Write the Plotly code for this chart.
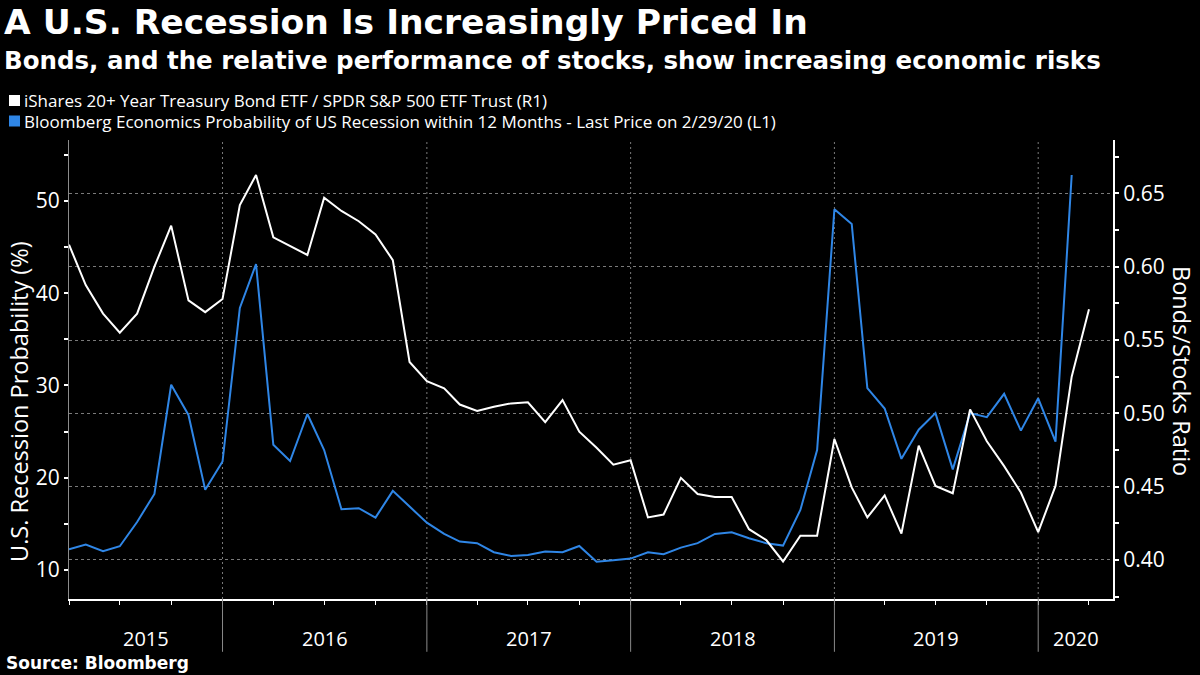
import plotly.graph_objects as go
import pandas as pd

# ---------------- data ----------------
ratio_dates = pd.date_range("2015-04-01", "2020-04-01", freq="MS")
ratio_values = [
    0.615, 0.5875, 0.568, 0.555, 0.568, 0.600, 0.628, 0.577, 0.569, 0.578,
    0.642, 0.6625, 0.620, 0.614, 0.608, 0.647, 0.638, 0.631, 0.622, 0.6045,
    0.535, 0.522, 0.517, 0.506, 0.5016, 0.5045, 0.5068, 0.5075, 0.494, 0.509,
    0.4875, 0.4765, 0.465, 0.468, 0.429, 0.431, 0.456, 0.445, 0.443, 0.443,
    0.421, 0.4136, 0.399, 0.4166, 0.4166, 0.4825, 0.4495, 0.429, 0.444, 0.418,
    0.478, 0.4505, 0.4455, 0.5027, 0.481, 0.464, 0.446, 0.419, 0.4505, 0.525,
    0.571,
]
recession_dates = pd.date_range("2015-04-01", "2020-03-01", freq="MS")
recession_values = [
    12.24, 12.75, 12.03, 12.57, 15.2, 18.24, 30.07, 26.8, 18.68, 21.75,
    38.4, 43.15, 23.56, 21.8, 26.9, 23.0, 16.58, 16.69, 15.67, 18.57,
    16.87, 15.13, 13.9, 13.07, 12.9, 11.92, 11.52, 11.63, 11.99, 11.92,
    12.6, 10.9, 11.05, 11.23, 11.92, 11.7, 12.42, 12.9, 13.9, 14.09,
    13.44, 12.9, 12.64, 16.5, 23.0, 49.1, 47.5, 29.7, 27.5, 22.04,
    25.2, 27.0, 20.9, 27.0, 26.56, 29.09, 25.1, 28.6, 23.9, 52.8,
]
year_labels = ["2015", "2016", "2017", "2018", "2019", "2020"]

title = "A U.S. Recession Is Increasingly Priced In"
subtitle = "Bonds, and the relative performance of stocks, show increasing economic risks"
legend_names = [
    "iShares 20+ Year Treasury Bond ETF / SPDR S&P 500 ETF Trust (R1)",
    "Bloomberg Economics Probability of US Recession within 12 Months - Last Price on 2/29/20 (L1)",
]
left_title = "U.S. Recession Probability (%)"
right_title = "Bonds/Stocks Ratio"
source = "Source: Bloomberg"

# ---------------- style ----------------
WHITE = "#ffffff"
BLUE = "#2f86e6"
GRID = "#7a7a7a"
TXT_FONT = "Open Sans, Noto Sans, sans-serif"
BOLD_FONT = "DejaVu Sans, Verdana, sans-serif"

x_start = pd.Timestamp("2015-04-01")
x_end = pd.Timestamp("2020-05-14")

fig_height = 675
top_m, bot_m = 140, 76
plot_h = fig_height - top_m - bot_m
L_PX, R_PX = 69, 1113


def py(px):
    # pixel y (from top of page) -> paper y
    return (fig_height - bot_m - px) / plot_h


def pxx(px):
    return (px - L_PX) / (R_PX - L_PX)


fig = go.Figure()
fig.add_trace(go.Scatter(
    x=recession_dates, y=recession_values, mode="lines",
    line=dict(color=BLUE, width=2), yaxis="y", showlegend=False,
    name=legend_names[1],
))
fig.add_trace(go.Scatter(
    x=ratio_dates, y=ratio_values, mode="lines",
    line=dict(color=WHITE, width=2), yaxis="y2", showlegend=False,
    name=legend_names[0],
))

shapes = []
annotations = []

# year separators (dotted in plot, solid below axis) and year labels
for yl in year_labels:
    ys = pd.Timestamp(f"{yl}-01-01")
    if ys > x_start:
        shapes.append(dict(type="line", xref="x", yref="paper", x0=ys, x1=ys,
                           y0=0, y1=1, line=dict(color=GRID, width=1, dash="2px,3px"),
                           layer="below"))
        shapes.append(dict(type="line", xref="x", yref="paper", x0=ys, x1=ys,
                           y0=0, y1=-0.115, line=dict(color="#8a8a8a", width=1)))
    a = max(ys, x_start)
    b = min(pd.Timestamp(f"{int(yl)+1}-01-01"), x_end)
    mid = a + (b - a) / 2
    annotations.append(dict(x=mid, xref="x", xanchor="center", y=py(638), yref="paper",
                            text=yl, showarrow=False, yanchor="middle",
                            font=dict(family=TXT_FONT, size=20, color=WHITE)))

# title / subtitle
annotations.append(dict(x=pxx(2), xref="paper", xanchor="left", y=py(22), yref="paper",
                        yanchor="middle", text=f"<b>{title}</b>", showarrow=False,
                        font=dict(family=BOLD_FONT, size=34.5, color=WHITE)))
annotations.append(dict(x=pxx(2), xref="paper", xanchor="left", y=py(60), yref="paper",
                        yanchor="middle", text=f"<b>{subtitle}</b>", showarrow=False,
                        font=dict(family=BOLD_FONT, size=24.5, color=WHITE)))

# legend
for j, (nm, col) in enumerate(zip(legend_names, [WHITE, BLUE])):
    yc = 100.5 + 20.5 * j
    shapes.append(dict(type="rect", xref="paper", yref="paper",
                       x0=pxx(9), x1=pxx(20), y0=py(yc - 5.5), y1=py(yc + 5.5),
                       fillcolor=col, line=dict(width=0)))
    annotations.append(dict(x=pxx(22), xref="paper", xanchor="left", y=py(yc), yref="paper",
                            yanchor="middle", text=nm, showarrow=False,
                            font=dict(family=TXT_FONT, size=17, color=WHITE)))

# axis titles
annotations.append(dict(x=pxx(19), xref="paper", xanchor="center", y=py(402), yref="paper",
                        yanchor="middle", text=left_title, textangle=-90, showarrow=False,
                        font=dict(family=TXT_FONT, size=23.5, color=WHITE)))
annotations.append(dict(x=pxx(1182), xref="paper", xanchor="center", y=py(371), yref="paper",
                        yanchor="middle", text=right_title, textangle=90, showarrow=False,
                        font=dict(family=TXT_FONT, size=23.5, color=WHITE)))
# source
annotations.append(dict(x=pxx(4), xref="paper", xanchor="left", y=py(663), yref="paper",
                        yanchor="middle", text=f"<b>{source}</b>", showarrow=False,
                        font=dict(family=BOLD_FONT, size=17, color=WHITE)))

fig.update_layout(
    width=1200, height=675,
    margin=dict(l=L_PX, r=1200 - R_PX, t=top_m, b=bot_m),
    paper_bgcolor="#000000", plot_bgcolor="#000000",
    showlegend=False,
    xaxis=dict(
        type="date", range=[x_start, x_end],
        showgrid=False, zeroline=False,
        showline=True, linecolor=WHITE, linewidth=2,
        ticks="outside", ticklen=4, tickcolor=WHITE, tickwidth=1,
        tick0="2015-04-01", dtick="M3", showticklabels=False,
    ),
    yaxis=dict(
        range=[6.85, 56.6], tick0=10, dtick=10,
        showgrid=False, zeroline=False,
        showline=True, linecolor="#8c8c8c", linewidth=1,
        ticks="outside", ticklen=4, tickwidth=2, tickcolor=WHITE,
        tickfont=dict(family=TXT_FONT, size=21, color=WHITE),
        minor=dict(dtick=5, tick0=5, ticks="outside", ticklen=4, tickcolor=WHITE, showgrid=False),
    ),
    yaxis2=dict(
        range=[0.3734, 0.6864], tick0=0.4, dtick=0.05, tickformat=".2f",
        overlaying="y", side="right",
        showgrid=True, gridcolor=GRID, griddash="3px,3px", gridwidth=1,
        zeroline=False,
        showline=True, linecolor=WHITE, linewidth=2,
        ticks="outside", ticklen=4, tickwidth=2, tickcolor=WHITE,
        tickfont=dict(family=TXT_FONT, size=21, color=WHITE),
        minor=dict(dtick=0.05, tick0=0.375, ticks="outside", ticklen=4, tickcolor=WHITE, showgrid=False),
    ),
    shapes=shapes,
    annotations=annotations,
)

fig.write_html("out.html")
